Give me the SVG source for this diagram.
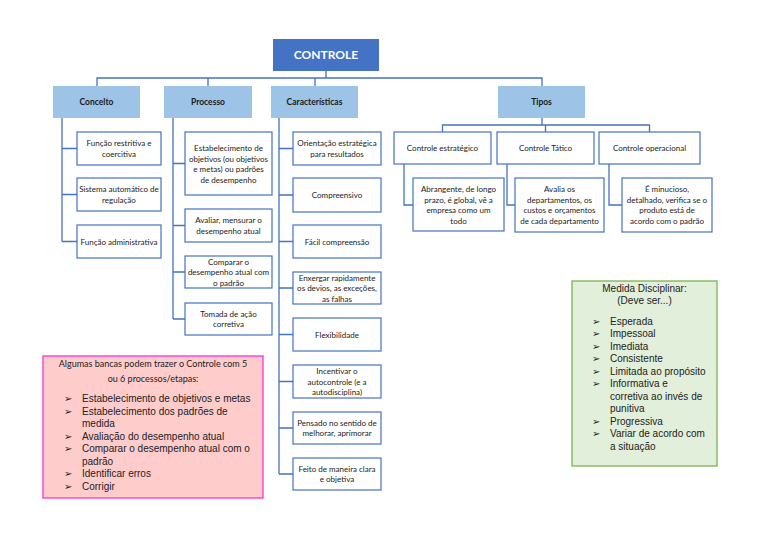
<svg xmlns="http://www.w3.org/2000/svg" width="768" height="543" viewBox="0 0 768 543">
<style>
.bx{fill:#fff;stroke:#4472C4;stroke-width:1.2}
.l1{fill:#9DC3E6}
.t{font-family:Lato,"Liberation Sans",sans-serif;font-size:8px;fill:#1a1a1a;text-anchor:middle}
.tb{font-family:Lato,"Liberation Sans",sans-serif;font-size:8.5px;font-weight:bold;fill:#1a1a1a;text-anchor:middle}
.c{fill:none;stroke:#4472C4;stroke-width:1.3}
.b{font-family:"Liberation Sans",Arial,sans-serif;font-size:10px;fill:#222}
.ar{font-family:"DejaVu Sans",sans-serif;font-size:10px;fill:#222}
.h{font-family:Lato,"Liberation Sans",sans-serif;font-size:9px;fill:#222;text-anchor:middle}
</style>
<rect width="768" height="543" fill="#fff"/>
<g id="connectors" class="c">
<path d="M326 71V78M97 86V78H542V86M208 78V86M315 78V86"/>
<path d="M62 118V241.5M62 148.5H77M62 194.5H77M62 241.5H77"/>
<path d="M173 118V319M173 163.5H185M173 225.5H185M173 272H185M173 319H185"/>
<path d="M279 118V474M279 148.5H293M279 195H293M279 241.5H293M279 288H293M279 334.5H293M279 381.5H293M279 428H293M279 474H293"/>
<path d="M542 118V125M442.5 132V125H649.5V132M545.5 125V132"/>
<path d="M404 164V205H413M507 164V205H515M609 164V205H622"/>
</g>
<g id="controle"><rect x="273" y="39" width="106" height="32" fill="#4472C4"/><text x="326" y="59" style="font-family:Lato,'Liberation Sans',sans-serif;font-size:12px;font-weight:bold;fill:#fff;text-anchor:middle">CONTROLE</text></g>
<g id="concelto"><rect class="l1" x="53" y="86" width="87" height="32"/><text class="tb" x="96.5" y="105">Concelto</text></g>
<g id="processo"><rect class="l1" x="164" y="86" width="88" height="32"/><text class="tb" x="208" y="105">Processo</text></g>
<g id="caracteristicas"><rect class="l1" x="271" y="86" width="87" height="32"/><text class="tb" x="314.5" y="105">Características</text></g>
<g id="tipos"><rect class="l1" x="498" y="86" width="87" height="32"/><text class="tb" x="541.5" y="105">Tipos</text></g>

<g id="c1"><rect class="bx" x="77" y="132" width="84" height="33"/><text class="t" x="119" y="146">Função restritiva e</text><text class="t" x="119" y="156.5">coercitiva</text></g>
<g id="c2"><rect class="bx" x="77" y="178" width="84" height="33"/><text class="t" x="119" y="192">Sistema automático de</text><text class="t" x="119" y="202.5">regulação</text></g>
<g id="c3"><rect class="bx" x="77" y="225" width="84" height="33"/><text class="t" x="119" y="244.5">Função administrativa</text></g>

<g id="p1"><rect class="bx" x="185" y="132" width="87" height="63"/><text class="t" x="228.5" y="151">Estabelecimento de</text><text class="t" x="228.5" y="161.5">objetivos (ou objetivos</text><text class="t" x="228.5" y="172">e metas) ou padrões</text><text class="t" x="228.5" y="182.5">de desempenho</text></g>
<g id="p2"><rect class="bx" x="185" y="209" width="87" height="33"/><text class="t" x="228.5" y="223">Avaliar, mensurar o</text><text class="t" x="228.5" y="233.5">desempenho atual</text></g>
<g id="p3"><rect class="bx" x="185" y="256" width="87" height="32"/><text class="t" x="228.5" y="264.5">Comparar o</text><text class="t" x="228.5" y="275">desempenho atual com</text><text class="t" x="228.5" y="285.5">o padrão</text></g>
<g id="p4"><rect class="bx" x="185" y="303" width="87" height="32"/><text class="t" x="228.5" y="316.5">Tomada de ação</text><text class="t" x="228.5" y="327">corretiva</text></g>

<g id="k1"><rect class="bx" x="293" y="132" width="88" height="33"/><text class="t" x="337" y="146">Orientação estratégica</text><text class="t" x="337" y="156.5">para resultados</text></g>
<g id="k2"><rect class="bx" x="293" y="178" width="88" height="34"/><text class="t" x="337" y="198">Compreensivo</text></g>
<g id="k3"><rect class="bx" x="293" y="225" width="88" height="33"/><text class="t" x="337" y="244.5">Fácil compreensão</text></g>
<g id="k4"><rect class="bx" x="293" y="272" width="88" height="32"/><text class="t" x="337" y="280.5">Enxergar rapidamente</text><text class="t" x="337" y="291">os devios, as exceções,</text><text class="t" x="337" y="301.5">as falhas</text></g>
<g id="k5"><rect class="bx" x="293" y="318" width="88" height="33"/><text class="t" x="337" y="337.5">Flexibilidade</text></g>
<g id="k6"><rect class="bx" x="293" y="365" width="88" height="33"/><text class="t" x="337" y="374">Incentivar o</text><text class="t" x="337" y="384.5">autocontrole (e a</text><text class="t" x="337" y="395">autodisciplina)</text></g>
<g id="k7"><rect class="bx" x="293" y="412" width="88" height="32"/><text class="t" x="337" y="425.5">Pensado no sentido de</text><text class="t" x="337" y="436">melhorar, aprimorar</text></g>
<g id="k8"><rect class="bx" x="293" y="458" width="88" height="32"/><text class="t" x="337" y="471.5">Feito de maneira clara</text><text class="t" x="337" y="482">e objetiva</text></g>

<g id="t1"><rect class="bx" x="394" y="132" width="97" height="32"/><text class="t" x="442.5" y="151">Controle estratégico</text></g>
<g id="t2"><rect class="bx" x="497" y="132" width="97" height="32"/><text class="t" x="545.5" y="151">Controle Tático</text></g>
<g id="t3"><rect class="bx" x="599" y="132" width="101" height="32"/><text class="t" x="649.5" y="151">Controle operacional</text></g>

<g id="s1"><rect class="bx" x="413" y="178" width="91" height="53"/><text class="t" x="458.5" y="192">Abrangente, de longo</text><text class="t" x="458.5" y="202.5">prazo, é global, vê a</text><text class="t" x="458.5" y="213">empresa como um</text><text class="t" x="458.5" y="223.5">todo</text></g>
<g id="s2"><rect class="bx" x="515" y="178" width="89" height="54"/><text class="t" x="559.5" y="192">Avalia os</text><text class="t" x="559.5" y="202.5">departamentos, os</text><text class="t" x="559.5" y="213">custos e orçamentos</text><text class="t" x="559.5" y="223.5">de cada departamento</text></g>
<g id="s3"><rect class="bx" x="622" y="178" width="90" height="54"/><text class="t" x="667" y="192">É minucioso,</text><text class="t" x="667" y="202.5">detalhado, verifica se o</text><text class="t" x="667" y="213">produto está de</text><text class="t" x="667" y="223.5">acordo com o padrão</text></g>

<g id="pink">
<rect x="43" y="356" width="220" height="142" fill="#FFCCCC" stroke="#FF33CC" stroke-width="1.3"/>
<text class="h" x="153" y="367">Algumas bancas podem trazer o Controle com 5</text>
<text class="h" x="153" y="382">ou 6 processos/etapas:</text>
<g class="ar"><text x="64" y="402">➢</text><text x="64" y="414.5">➢</text><text x="64" y="439.5">➢</text><text x="64" y="452">➢</text><text x="64" y="477">➢</text><text x="64" y="489.5">➢</text></g>
<g class="b"><text x="82" y="402">Estabelecimento de objetivos e metas</text><text x="82" y="414.5">Estabelecimento dos padrões de</text><text x="82" y="427">medida</text><text x="82" y="439.5">Avaliação do desempenho atual</text><text x="82" y="452">Comparar o desempenho atual com o</text><text x="82" y="464.5">padrão</text><text x="82" y="477">Identificar erros</text><text x="82" y="489.5">Corrigir</text></g>
</g>

<g id="green">
<rect x="572" y="281" width="145" height="185" fill="#E2EFDA" stroke="#70AD47" stroke-width="1.2"/>
<text class="b" x="644.5" y="292" text-anchor="middle">Medida Disciplinar:</text>
<text class="b" x="644.5" y="304" text-anchor="middle">(Deve ser...)</text>
<g class="ar"><text x="592" y="324.5">➢</text><text x="592" y="337">➢</text><text x="592" y="349.5">➢</text><text x="592" y="362">➢</text><text x="592" y="374.5">➢</text><text x="592" y="387">➢</text><text x="592" y="424.5">➢</text><text x="592" y="437">➢</text></g>
<g class="b"><text x="610" y="324.5">Esperada</text><text x="610" y="337">Impessoal</text><text x="610" y="349.5">Imediata</text><text x="610" y="362">Consistente</text><text x="610" y="374.5">Limitada ao propósito</text><text x="610" y="387">Informativa e</text><text x="610" y="399.5">corretiva ao invés de</text><text x="610" y="412">punitiva</text><text x="610" y="424.5">Progressiva</text><text x="610" y="437">Variar de acordo com</text><text x="610" y="449.5">a situação</text></g>
</g>
</svg>
